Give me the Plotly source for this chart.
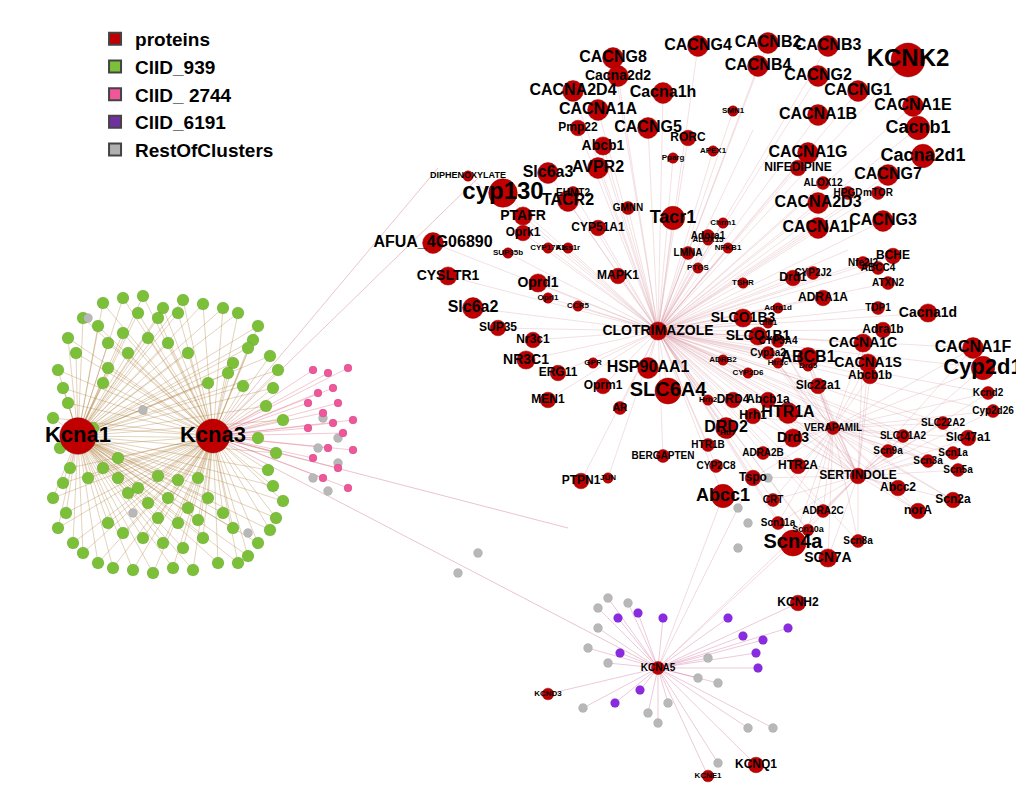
import plotly.graph_objects as go

# ---- protein nodes: label, x, y, marker size, font size ----
prot_labels = ["KCNK2","cyp130","Kcna1","Kcna3","Cyp2d1","CACNG4","CACNB2","CACNB3","CACNG8","Cacna2d2","CACNB4","CACNG2","CACNG1",
 "CACNA2D4","Cacna1h","CACNA1E","CACNA1A","CACNA1B","Cacnb1","CACNG5","Pmp22","Abcb1","Cacna2d1","CACNA1G","CACNG7","Slc6a3","AVPR2",
 "TACR2","Tacr1","CACNA2D3","CACNG3","CACNA1I","PTAFR","AFUA_4G06890","CYSLTR1","BCHE","Slc6a2","SUP35","Cacna1d","ABCB1","CACNA1C",
 "CACNA1S","CACNA1F","NR3C1","HSP90AA1","SLC6A4","MEN1","HTR1A","DRD2","Drd3","Abcc1","Scn4a","SCN7A","KCNH2","KCNA5","KCNQ1","KCND3",
 "KCNE1","PTPN1","Oprd1","Abcb1b","Adra1b","ADRA1A","Drd1","SLCO1B3","SLCO1B1","CYP3A4","Abcc2","norA","Scn2a","Scn5a","Scn1a","Scn9a",
 "Scn3a","Slc47a1","SLC22A2","SLCO1A2","Cyp2d26","Kcnd2","HTR2A","Tspo","CRT","SERTINDOLE","VERAPAMIL","CLOTRIMAZOLE","BERGAPTEN",
 "ERG11","Oprm1","AR","Nr3c1","Slc22a1","Cyp1a2","Hrh1","HTR1B","ADRA2B","DRD4","Abcb1a","Scn11a","Scn8a","Scn10a","ADRA2C","CYP2C8",
 "MAPK1","CYP51A1","Oprk1","LMNA","Nfe2l2","ABCC4","ATXN2","TDP1","CYP2J2","NIFEDIPINE","ALOX12","mTOR","HPGD","Adora1","RORC","EHMT2",
 "GMNN","DIPHENOXYLATE","Kiss1r","Oprl1","SUP35b","PTGS","Htr2c","Adra1d","CYP2D6","Pparg","APEX1","SMN1","ALOX15","NFKB1","Chrm1","TSHR",
 "ADRB2","Hrh2","Htr7","Cnr1","CYP17A1","GPR","CCR5","Drd5","JUN","DYRK1A","Ccl2","KDM4E","PF3D7_1437900"]
prot_x = [900,495,70,205,975,690,760,820,605,610,750,810,850,565,655,905,590,810,910,640,570,595,915,800,880,540,590,560,665,810,875,810,
 515,425,440,885,465,490,920,800,855,860,965,518,640,660,540,780,718,785,715,785,820,790,650,748,540,700,573,530,862,875,815,785,735,750,
 770,890,910,945,950,945,880,920,960,935,895,985,980,790,745,765,850,825,650,655,550,595,612,525,810,760,745,700,755,725,760,770,850,800,
 815,708,610,590,515,680,855,870,880,870,805,790,815,870,840,700,680,565,620,460,560,540,500,690,770,770,740,665,705,725,700,720,715,735,
 715,700,720,760,540,585,570,800,600,590,745,840,820,680]
prot_y = [52,185,428,428,360,38,35,38,50,68,58,68,83,83,85,98,102,107,120,120,120,138,148,145,167,165,160,193,210,195,213,220,208,235,268,
 248,300,320,305,350,335,355,340,352,360,383,392,405,420,430,488,535,550,595,660,757,686,768,473,275,368,322,290,270,310,328,333,480,503,
 492,462,445,443,453,430,415,428,403,385,458,470,492,468,420,323,448,365,378,400,332,378,345,408,437,445,392,392,515,533,522,503,458,268,
 220,225,245,255,260,275,300,265,160,175,185,185,228,130,185,200,168,240,290,245,260,355,300,365,150,143,103,232,240,215,275,352,392,425,
 315,240,355,298,358,470,132,122,242]
prot_s = [26,22,28,26,18,16,16,16,16,16,16,16,16,16,16,16,16,16,18,16,12,14,18,16,16,16,16,16,18,16,16,16,14,16,14,12,16,12,14,16,14,14,16,
 14,16,20,12,16,16,14,18,20,14,12,10,12,9,9,12,14,12,12,12,12,14,14,10,12,12,12,10,10,10,10,12,10,10,10,10,12,12,10,12,10,14,10,12,12,10,
 12,12,10,12,10,10,12,12,10,10,9,10,10,12,12,12,10,10,10,10,10,10,12,10,10,10,10,12,10,10,8,8,8,8,8,8,8,8,8,8,8,8,8,8,8,8,8,8,8,8,8,8,8,8]
prot_f = [24,24,22,22,22,16,16,16,16,14,16,16,16,16,16,16,16,16,18,16,12,14,18,16,16,16,16,16,18,16,16,16,14,16,14,12,16,12,14,16,14,14,16,
 14,16,20,12,16,16,14,18,20,14,12,10,12,8,8,12,14,12,12,12,12,14,14,10,12,12,12,10,10,10,10,12,10,10,10,10,12,12,10,12,10,14,10,12,12,10,
 12,12,10,12,10,10,12,12,10,10,9,10,10,12,12,12,10,10,10,10,10,10,12,10,10,10,10,12,10,10,9,8,8,8,8,8,8,8,8,8,8,8,8,8,8,8,8,8,8,8,8,8,8,8]

# ---- green cluster ClID_939 ----
green_x = [95,115,135,155,175,195,215,75,90,230,250,60,68,245,262,50,270,55,265,60,258,45,275,52,268,62,260,55,265,45,275,58,268,50,262,
 65,250,75,240,90,230,105,125,145,165,185,210,130,150,170,100,115,240,225,80,95,110,150,170,190,120,140,160,180,200,215,100,115,135,155,
 175,195,225,85,250,180,160,140,120,100,95,200,220,235,110,130,150,170,190]
green_y = [295,290,288,300,292,296,300,310,318,305,318,330,345,332,348,362,362,380,380,395,398,410,412,440,445,460,462,475,478,490,493,
 505,510,520,522,535,535,545,548,555,555,560,562,565,560,562,555,305,310,305,335,325,340,355,470,460,450,468,472,470,485,495,490,500,490,
 505,515,525,530,535,540,530,520,420,430,345,335,330,345,360,375,375,365,378,470,480,510,515,512]
gray_x = [80,135,125,240,305,320,330,310,315,330,450,470,590,600,620,590,580,600,575,640,650,660,700,710,740,765,710,690,740,730,760,730]
gray_y = [310,402,505,525,470,483,455,440,410,430,565,545,600,590,595,620,640,655,700,705,715,695,650,675,720,720,755,670,515,540,470,500]
pink_x = [305,320,340,325,310,330,345,315,300,335,320,345,305,330,315,340,300,325]
pink_y = [362,365,360,380,385,395,412,405,420,425,440,442,450,460,470,480,395,415]
purple_x = [610,630,655,720,735,755,780,750,612,607,632,748]
purple_y = [610,605,610,610,628,632,620,660,645,695,682,645]

hubs = {"Kcna1": (70, 428), "Kcna3": (205, 428), "CLOT": (650, 323), "KCNA5": (650, 660),
        "VERA": (825, 420), "SERT": (850, 468), "KCNH2": (790, 595)}

fig = go.Figure()

def edges(src, xs, ys, color, width=0.6):
    ex, ey = [], []
    for x, y in zip(xs, ys):
        ex += [src[0], x, None]; ey += [src[1], y, None]
    fig.add_trace(go.Scatter(x=ex, y=ey, mode="lines", line=dict(color=color, width=width),
                             hoverinfo="skip", showlegend=False))

edges(hubs["Kcna1"], green_x, green_y, "rgba(170,120,50,0.55)")
edges(hubs["Kcna3"], green_x, green_y, "rgba(170,120,50,0.55)")
edges(hubs["Kcna3"], pink_x, pink_y, "rgba(220,100,130,0.6)")
edges(hubs["Kcna3"], [430, 470, 560, 650], [160, 170, 520, 660], "rgba(210,130,150,0.6)", 0.8)
rx = [x for x, y in zip(prot_x, prot_y) if y < 560 and x > 400]
ry = [y for x, y in zip(prot_x, prot_y) if y < 560 and x > 400]
edges(hubs["CLOT"], rx, ry, "rgba(215,150,160,0.5)")
edges(hubs["KCNA5"], purple_x + gray_x[12:28] + [790, 748, 540, 700], purple_y + gray_y[12:28] + [595, 757, 686, 768], "rgba(200,90,140,0.55)")
edges(hubs["KCNA5"], [785, 850, 745, 715], [535, 468, 470, 488], "rgba(210,130,150,0.5)")
sx = [x for x, y in zip(prot_x, prot_y) if x > 740 and 330 < y < 560]
sy = [y for x, y in zip(prot_x, prot_y) if x > 740 and 330 < y < 560]
edges(hubs["VERA"], sx, sy, "rgba(215,150,160,0.5)")
edges(hubs["SERT"], sx, sy, "rgba(215,150,160,0.5)")

def nodes(xs, ys, color, size, name, line="rgba(0,0,0,0.15)"):
    fig.add_trace(go.Scatter(x=xs, y=ys, mode="markers", name=name, showlegend=False,
                             marker=dict(color=color, size=size, opacity=1, line=dict(color=line, width=0.5))))

nodes(green_x, green_y, "#7cc03a", 12, "ClID_939")
nodes(gray_x, gray_y, "#b8b8b8", 9, "RestOfClusters")
nodes(pink_x, pink_y, "#f0569a", 8, "ClID_ 2744")
nodes(purple_x, purple_y, "#8a2be2", 9, "ClID_6191")
nodes(prot_x, prot_y, "#c00000", [s * 1.3 for s in prot_s], "proteins", line="#900000")
fig.add_trace(go.Scatter(x=prot_x, y=prot_y, mode="text", text=prot_labels, showlegend=False,
                         textfont=dict(family="Arial", size=prot_f, color="black", weight="bold")))

leg_names = ["proteins", "ClID_939", "ClID_ 2744", "ClID_6191", "RestOfClusters"]
leg_colors = ["#c00000", "#7cc03a", "#f0569a", "#7030a0", "#b0b0b0"]
for n, c in zip(leg_names, leg_colors):
    fig.add_trace(go.Scatter(x=[-100], y=[-100], mode="markers", name=n,
                             marker=dict(symbol="square", size=22, color=c, line=dict(color="#444", width=1))))

fig.update_layout(width=1024, height=793, margin=dict(l=0, r=0, t=0, b=0),
                  plot_bgcolor="white", paper_bgcolor="white",
                  xaxis=dict(range=[0, 1024], visible=False),
                  yaxis=dict(range=[793, 0], visible=False),
                  legend=dict(x=0.085, y=0.985, font=dict(family="Arial", size=19, color="black", weight="bold"),
                              bgcolor="rgba(255,255,255,0)", itemsizing="constant", tracegroupgap=0))
fig.write_html("out.html")
